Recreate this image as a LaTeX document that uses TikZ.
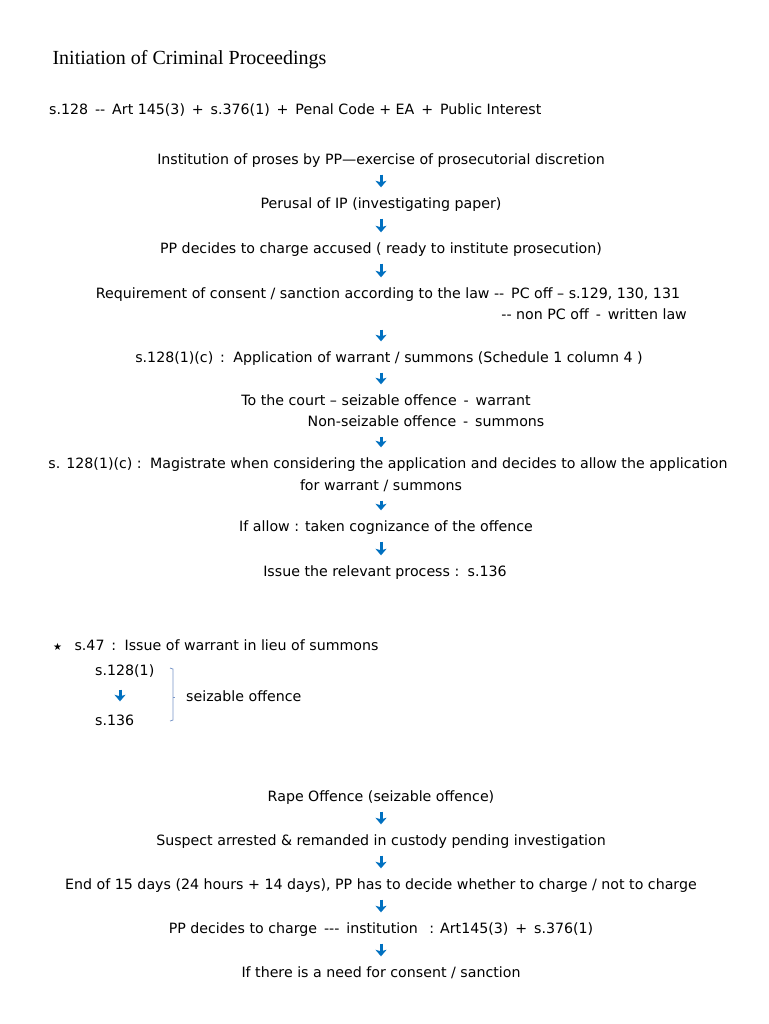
\documentclass[tikz,border=0pt]{standalone}
\usepackage{fontspec}
\usetikzlibrary{arrows.meta}
\setmainfont{DejaVu Sans}
\newfontfamily\titlefont{Liberation Serif}
\newfontfamily\symfont{DejaVu Sans}
\definecolor{arrowblue}{RGB}{0,112,192}
\definecolor{bracketblue}{RGB}{120,150,200}

\begin{document}
\begin{tikzpicture}[x=1pt,y=-1pt]
\tikzstyle{txt}=[font=\fontsize{14.2}{16}\selectfont,inner sep=0pt,text height=10pt,text depth=3pt];
\tikzstyle{flow}=[arrowblue,line width=3pt,-{Stealth[length=6.5pt,width=11pt,inset=1.5pt]},shorten <=7pt,shorten >=11pt];

\fill[white] (0,0) rectangle (768,1024);
\coordinate (axis) at (381,0);

\node [anchor=west,font=\titlefont\fontsize{20}{22}\selectfont] (title) at (49,60) {Initiation of Criminal Proceedings};
\node [txt,anchor=west] (law) at (49,111) {s.128 \,-{}-\, Art 145(3) \,+\, s.376(1) \,+\, Penal Code + EA \,+\, Public Interest};

\node [txt] (s1) at (381,161) {Institution of proses by PP---exercise of prosecutorial discretion};
\node [txt] (s2) at (381,205) {Perusal of IP (investigating paper)};
\node [txt] (s3) at (381,250) {PP decides to charge accused ( ready to institute prosecution)};
\node [txt] (s4) at (388,295) {Requirement of consent / sanction according to the law -{}-\, PC off -- s.129, 130, 131};
\node [txt,anchor=east] (s4b) at (687,316) {-{}- non PC off \,-\, written law};
\node [txt] (s5) at (389,359) {s.128(1)(c) \,:\, Application of warrant / summons (Schedule 1 column 4 )};
\node [txt] (s6) at (386,402) {To the court -- seizable offence \,-\, warrant};
\node [txt] (s6b) at (426,423) {Non-seizable offence \,-\, summons};
\node [txt] (s7) at (388,465) {s. 128(1)(c) : \,Magistrate when considering the application and decides to allow the application};
\node [txt] (s7b) at (381,487) {for warrant / summons};
\node [txt] (s8) at (386,528) {If allow : taken cognizance of the offence};
\node [txt] (s9) at (385,573) {Issue the relevant process : \,s.136};

\draw [flow] (s1.south -| axis) -- (s2.north -| axis);
\draw [flow] (s2.south -| axis) -- (s3.north -| axis);
\draw [flow] (s3.south -| axis) -- (s4.north -| axis);
\draw [flow] (s4b.south -| axis) -- (s5.north -| axis);
\draw [flow] (s5.south -| axis) -- (s6.north -| axis);
\draw [flow] (s6b.south -| axis) -- (s7.north -| axis);
\draw [flow] (s7b.south -| axis) -- (s8.north -| axis);
\draw [flow] (s8.south -| axis) -- (s9.north -| axis);

% s.47 note
\node [txt,anchor=west] (n1) at (53,647) {{\symfont\fontsize{10}{10}\selectfont ★}\;\; s.47 \,:\, Issue of warrant in lieu of summons};
\node [txt,anchor=west] (n2) at (95,672) {s.128(1)};
\node [txt,anchor=west] (n3) at (95,722) {s.136};
\node [txt,anchor=west] (n4) at (186,698) {seizable offence};
\draw [flow,shorten <=11pt,shorten >=14pt] (n2.south -| 120,0) -- (n3.north -| 120,0);
\draw [bracketblue,line width=0.8pt] (170,668) -- (173,669) -- (173,720) -- (170,721);
\draw [bracketblue,line width=0.8pt] (173,697) -- (175,697);

% rape offence
\node [txt] (r1) at (381,798) {Rape Offence (seizable offence)};
\node [txt] (r2) at (381,842) {Suspect arrested \& remanded in custody pending investigation};
\node [txt] (r3) at (381,886) {End of 15 days (24 hours + 14 days), PP has to decide whether to charge / not to charge};
\node [txt] (r4) at (381,930) {PP decides to charge \,-{}-{}-\, institution \, : Art145(3) \,+\, s.376(1)};
\node [txt] (r5) at (381,974) {If there is a need for consent / sanction};

\draw [flow] (r1.south -| axis) -- (r2.north -| axis);
\draw [flow] (r2.south -| axis) -- (r3.north -| axis);
\draw [flow] (r3.south -| axis) -- (r4.north -| axis);
\draw [flow] (r4.south -| axis) -- (r5.north -| axis);
\end{tikzpicture}
\end{document}
